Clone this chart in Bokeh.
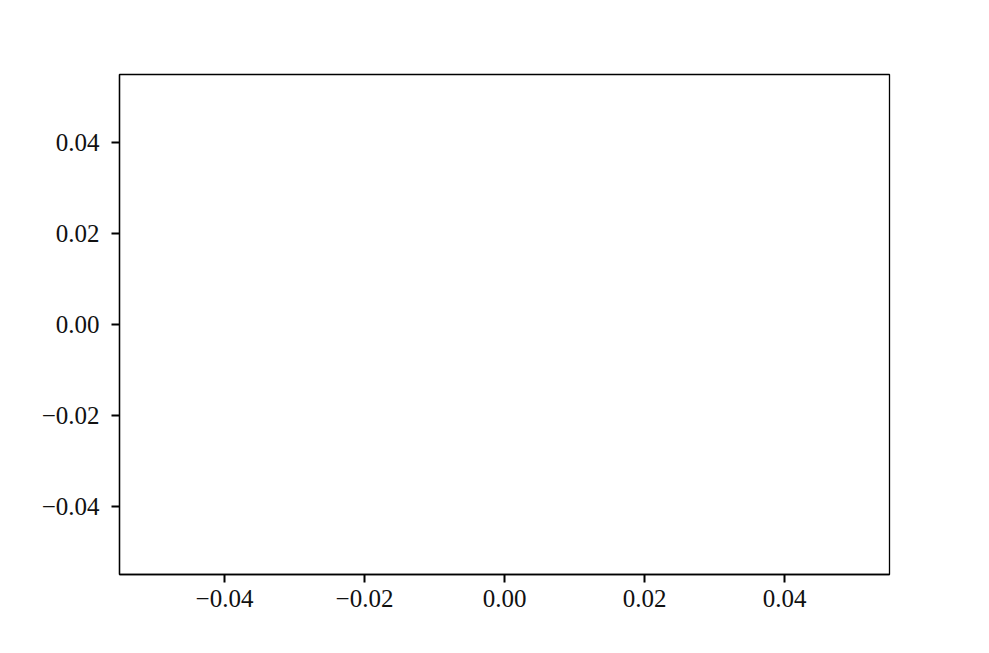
from bokeh.plotting import figure
from bokeh.models import Range1d, FixedTicker
from bokeh.embed import file_html
from bokeh.resources import INLINE

# data (empty chart: only axis ranges and ticks)
x_range = (-0.055, 0.055)
y_range = (-0.055, 0.055)
x_ticks = [-0.04, -0.02, 0.0, 0.02, 0.04]
y_ticks = [-0.04, -0.02, 0.0, 0.02, 0.04]


def fmt(v):
    s = "%.2f" % abs(v)
    return ("\u2212" + s) if v < 0 else s


W, H = 973, 637
p = figure(width=W, height=H, output_backend="svg", toolbar_location=None,
           x_range=Range1d(*x_range), y_range=Range1d(*y_range),
           min_border_left=119, min_border_right=W - 889,
           min_border_top=74, min_border_bottom=H - 574)
p.background_fill_color = "white"
p.border_fill_color = "white"
p.outline_line_color = "black"
p.outline_line_width = 1.3
p.grid.visible = False

FONT = "Liberation Serif"
for ax, ticks in ((p.xaxis, x_ticks), (p.yaxis, y_ticks)):
    ax.ticker = FixedTicker(ticks=ticks, minor_ticks=[])
    ax.major_label_overrides = {t: fmt(t) for t in ticks}
    ax.minor_tick_line_color = None
    ax.major_tick_in = 0
    ax.major_tick_out = 8
    ax.major_tick_line_color = "black"
    ax.major_tick_line_width = 2
    ax.axis_line_color = "black"
    ax.axis_line_width = 1.3
    ax.major_label_text_font = FONT
    ax.major_label_text_font_size = "25px"
    ax.major_label_text_color = "#111111"

p.xaxis.major_label_standoff = 7
p.yaxis.major_label_standoff = 12

open("out.html", "w").write(file_html(p, INLINE))
